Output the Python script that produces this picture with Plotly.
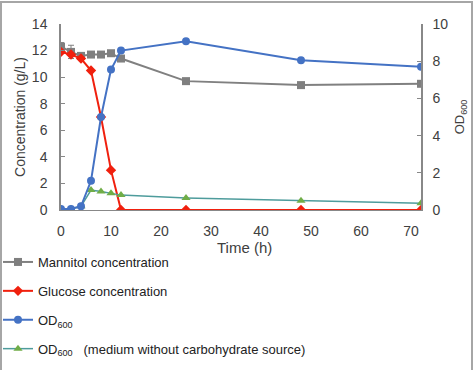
import plotly.graph_objects as go

time = [0, 2, 4, 6, 8, 10, 12, 25, 48, 72]
mannitol = [12.3, 11.9, 11.6, 11.7, 11.7, 11.8, 11.4, 9.7, 9.4, 9.5]
mannitol_err = [0.3, 0.5, 0.1, 0.1, 0.1, 0.1, 0.1, 0.1, 0.1, 0.1]
glucose = [11.9, 11.7, 11.4, 10.5, 7.0, 3.0, 0.0, 0.0, 0.0, 0.0]
od600 = [0.05, 0.05, 0.2, 1.57, 5.0, 7.55, 8.57, 9.07, 8.05, 7.7]
od600_nocarb = [0.07, 0.07, 0.2, 1.07, 1.0, 0.9, 0.8, 0.65, 0.5, 0.36]

fig = go.Figure()
fig.add_trace(go.Scatter(
    x=time, y=od600_nocarb, name="OD<sub>600</sub>   (medium without carbohydrate source)",
    mode="lines+markers", yaxis="y2", legendrank=4, legendgroup="d",
    line=dict(color="#4E9C9C", width=1.5),
    marker=dict(symbol="triangle-up", size=8, color="#70AD47")))
fig.add_trace(go.Scatter(
    x=time, y=od600, name="OD<sub>600</sub>",
    mode="lines+markers", yaxis="y2", legendrank=3, legendgroup="c",
    line=dict(color="#4472C4", width=2),
    marker=dict(symbol="circle", size=8, color="#4472C4")))
fig.add_trace(go.Scatter(
    x=time, y=mannitol, name="Mannitol concentration",
    mode="lines+markers", legendrank=1, legendgroup="a",
    error_y=dict(type="data", array=mannitol_err, color="#7F7F7F", thickness=1, width=3),
    line=dict(color="#808080", width=2),
    marker=dict(symbol="square", size=8, color="#7F7F7F")))
fig.add_trace(go.Scatter(
    x=time, y=glucose, name="Glucose concentration",
    mode="lines+markers", legendrank=2, legendgroup="b",
    line=dict(color="#F0200E", width=2),
    marker=dict(symbol="diamond", size=8, color="#F0200E")))

font_col = "#404040"
fig.update_layout(
    width=474, height=370,
    margin=dict(l=61, r=53, t=24, b=160, autoexpand=False),
    paper_bgcolor="white", plot_bgcolor="white",
    font=dict(family="Liberation Sans, Arial, sans-serif", size=12, color=font_col),
    xaxis=dict(range=[0, 72], dtick=10, showgrid=False, zeroline=False,
               showline=True, linecolor="#888888", linewidth=1,
               ticks="", tickfont=dict(size=14), ticklabelstandoff=8),
    yaxis=dict(range=[0, 14], dtick=2, showgrid=False, zeroline=False,
               showline=True, linecolor="#888888", linewidth=1.5,
               ticks="inside", ticklen=4, tickcolor="#888888", tickfont=dict(size=14),
               ticklabelstandoff=9,
               title=dict(text="Concentration (g/L)", font=dict(size=14), standoff=3)),
    yaxis2=dict(range=[0, 10], dtick=2, overlaying="y", side="right",
                showgrid=False, zeroline=False,
                showline=True, linecolor="#888888", linewidth=1.5,
                ticks="inside", ticklen=4, tickcolor="#888888", tickfont=dict(size=14),
                ticklabelstandoff=7,
                title=dict(text="OD<sub>600</sub>", font=dict(size=13), standoff=8)),
    legend=dict(xref="paper", yref="paper", x=-63/360, y=-37/186,
                xanchor="left", yanchor="top", orientation="v",
                tracegroupgap=9, itemwidth=30,
                font=dict(size=13, color="#222222"), bgcolor="rgba(0,0,0,0)"),
    annotations=[dict(text="Time (h)", xref="paper", yref="paper",
                      x=0.51, y=-37/186, xanchor="center", yanchor="middle",
                      showarrow=False, font=dict(size=15, color=font_col))],
    shapes=[dict(type="rect", xref="paper", yref="paper",
                 x0=-60/360, x1=1+51/360, y0=-170/186, y1=1+22/186,
                 line=dict(color="#A6A6A6", width=2), fillcolor="rgba(0,0,0,0)")],
)

fig.write_html("out.html", config={"displayModeBar": False},
               post_script="document.body.style.margin='0';")
